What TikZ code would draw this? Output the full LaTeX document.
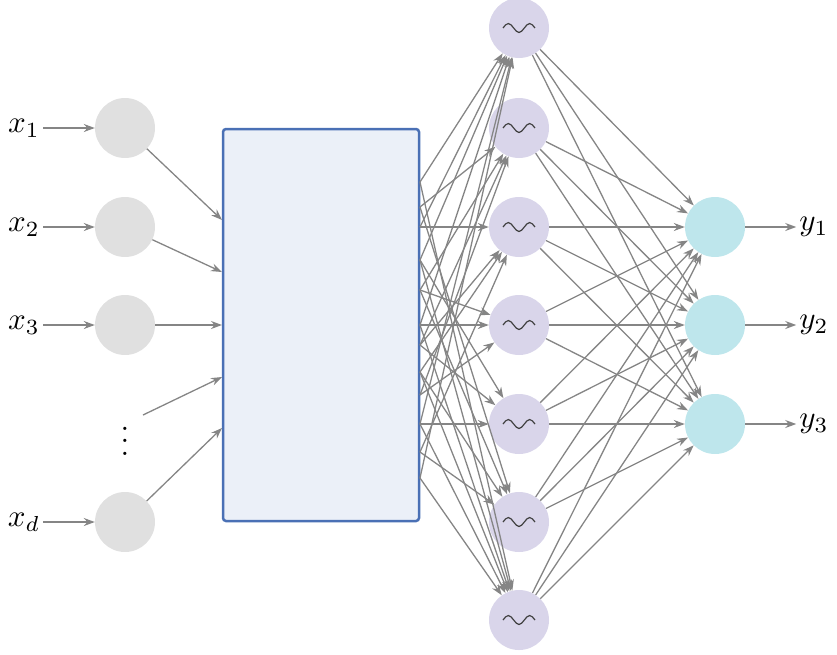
\documentclass[tikz,border=0pt]{standalone}
\usepackage{graphicx}
\usepackage{amsmath}
\usetikzlibrary{arrows.meta}
\definecolor{ingray}{HTML}{E0E0E0}
\definecolor{hidlav}{HTML}{D9D5EA}
\definecolor{outcyan}{HTML}{BEE6EC}
\definecolor{boxfill}{HTML}{EBF0F8}
\definecolor{boxline}{HTML}{4A70B5}
\definecolor{arrgray}{HTML}{858585}
\newcommand{\biglbl}[1]{\scalebox{3.1}{#1}}
\tikzset{
  unit/.style={circle,minimum size=60pt,inner sep=0pt},
  innode/.style={unit,fill=ingray},
  hidnode/.style={unit,fill=hidlav},
  outnode/.style={unit,fill=outcyan},
  lbl/.style={inner sep=3pt},
  conn/.style={-{Stealth[length=11pt,width=8pt]},arrgray,line width=1.3pt},
  wave/.style={line width=1.2pt,black!75}
}
\begin{document}
\begin{tikzpicture}[x=1pt,y=-1pt]
\useasboundingbox (0,0) rectangle (837,654);
% inputs
\foreach \n/\y/\t in {1/128/x_1,2/227/x_2,3/325/x_3,5/522/x_d} {
  \node[innode] (i\n) at (125,\y) {};
  \node[lbl] (xl\n) at (24,\y) {\biglbl{$\t$}};
  \draw[conn] (xl\n.east) -- (i\n);
}
\node[lbl] (dots) at (125,432) {\biglbl{$\vdots$}};
\coordinate (dd) at (143,415);
% box
\node[draw=boxline,fill=boxfill,line width=2.5pt,rounded corners=3pt,
  minimum width=196pt,minimum height=392pt,inner sep=0pt] (box) at (321,325) {};
\foreach \n/\y in {1/220,2/272,3/325,5/428} {
  \coordinate (bi\n) at (222,\y);
  \draw[conn] (i\n) -- (bi\n);
}
\coordinate (bi4) at (222,377);
\draw[conn] (dd) -- (bi4);
% hidden layer
\foreach \n/\y in {0/28,1/128,2/227,3/325,4/424,5/522,6/620} {
  \node[hidnode] (h\n) at (519,\y) {};
  \draw[wave] ([xshift=-16pt]h\n.center) sin ++(5.33,-4.5) cos ++(5.33,4.5) sin ++(5.33,4.5) cos ++(5.33,-4.5) sin ++(5.33,-4.5) cos ++(5.33,4.5);
}
\foreach \s/\y in {0/182,1/207,2/227,3/260,4/290,5/325,6/345,7/372,8/395,9/424,10/452,11/478} {
  \coordinate (bo\s) at (420,\y);
}
\foreach \s/\h in {0/0,0/6,1/1,1/5,2/2,2/0,3/4,3/0,3/6,4/5,4/1,4/3,5/3,5/0,5/6,6/4,6/2,6/1,7/5,7/2,7/6,8/1,8/3,9/4,9/0,9/6,10/5,10/2,11/6,11/0} {
  \draw[conn] (bo\s) -- (h\h);
}
% outputs
\foreach \n/\y in {1/227,2/325,3/424} {
  \node[outnode] (o\n) at (715,\y) {};
  \node[lbl] (yl\n) at (814,\y) {\biglbl{$y_\n$}};
  \draw[conn] (o\n) -- (yl\n.west);
}
\foreach \h in {0,...,6} {
  \foreach \n in {1,2,3} {
    \draw[conn] (h\h) -- (o\n);
  }
}
\end{tikzpicture}
\end{document}
